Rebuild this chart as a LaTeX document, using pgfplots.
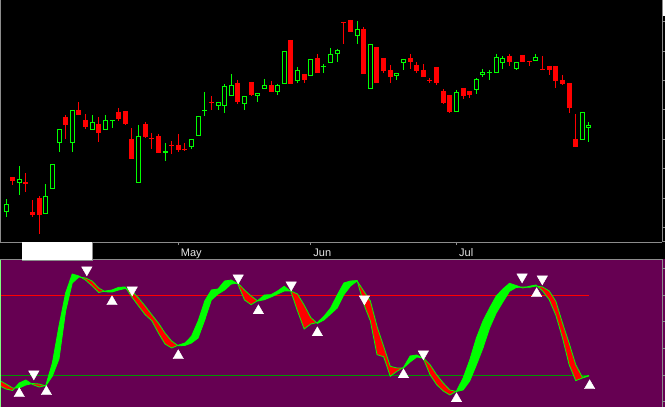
\documentclass[border=0pt]{standalone}
\usepackage{pgfplots}
\pgfplotsset{compat=1.18}
\usepackage{pgfplotstable}
\usepackage{fontspec}
\setmainfont{Liberation Sans}
\definecolor{cg}{RGB}{0,255,0}
\definecolor{cr}{RGB}{255,0,0}
\definecolor{purp}{RGB}{102,0,82}
\definecolor{lg}{RGB}{140,140,140}
\definecolor{dg}{RGB}{0,150,0}
\definecolor{lbl}{RGB}{230,230,230}

% candles: values are chart y positions (down = lower price)
\pgfplotstableread{
i top bot hi lo
0 204 212 199 217
2 179 183 166 195
6 196 214 184 214
7 164 189 164 189
8 129 143 129 152
10 110 143 110 152
13 122 130 115 130
15 120 130 115 130
16 120 121 120 128
20 136 183 125 183
24 151 153 143 161
28 139 147 139 149
29 116 136 116 136
30 110 111 92 116
32 102 106 102 110
33 86 106 84 113
34 85 96 74 96
36 96 104 96 110
38 93 96 93 102
39 85 89 79 89
41 85 92 84 95
42 51 84 51 84
44 70 81 67 83
46 59 76 59 76
48 66 67 64 73
49 54 63 48 63
50 50 54 49 62
53 29 36 21 44
55 44 89 44 89
59 73 76 73 80
60 59 63 59 70
68 92 112 90 112
71 79 90 78 94
72 72 75 69 77
73 72 73 70 80
74 57 73 54 73
75 58 63 56 69
77 62 69 62 70
80 57 61 54 61
87 112 140 112 140
88 125 128 122 142
}\upc

\pgfplotstableread{
i top bot hi lo
1 177 181 177 185
3 182 184 173 192
4 212 215 200 217
5 198 215 196 234
9 117 125 115 139
11 110 115 102 115
12 120 127 114 129
14 124 133 117 142
17 112 119 108 121
18 111 124 111 125
19 139 159 128 159
21 124 137 122 138
22 138 139 133 149
23 136 153 134 153
25 145 146 141 154
26 145 150 134 152
27 149 150 143 151
31 102 103 96 110
35 83 102 80 104
37 82 95 82 96
40 85 92 81 92
43 40 84 40 84
45 74 80 74 83
47 58 73 54 73
51 22 23 22 44
52 20 32 20 32
54 29 74 27 74
56 47 83 47 83
57 58 71 58 73
58 70 77 65 83
61 58 62 54 69
62 65 71 62 73
63 70 77 64 77
64 80 81 78 83
65 67 83 67 85
66 91 103 89 104
67 95 112 95 113
69 88 96 88 99
70 91 95 91 98
76 56 62 54 66
78 55 62 55 62
79 61 62 61 66
81 69 70 56 70
82 66 70 66 75
83 66 81 66 88
84 80 84 75 85
85 83 108 83 113
86 139 147 114 147
}\dnc

% stochastic %K (k) and %D (d)
\pgfplotstableread{
i k d
-0.9 12.0 16.0
0 9.75 13.5
1 8.63 10.5
2 14.25 10.5
3 16.5 12.75
4 13.13 13.88
5 11.25 13.5
6 12.38 12.0
7 29.25 19.5
8 57.0 32.25
9 81.75 68.25
10 96.0 89.25
11 94.5 93.75
12 91.5 93.0
13 87.0 90.75
14 82.13 85.5
15 83.25 82.65
16 84.0 82.5
17 86.0 84.0
18 86.25 85.13
19 78.75 83.25
20 72.0 78.0
21 65.5 72.0
22 61.0 65.5
23 51.75 59.25
24 43.5 51.75
25 40.5 45.75
26 42.6 42.15
27 44.25 42.4
28 49.28 44.25
29 60.75 48.0
30 75.75 61.5
31 84.0 76.5
32 84.75 81.0
33 90.75 84.0
34 91.5 88.5
35 88.5 89.25
36 76.5 84.0
37 73.0 79.5
38 76.1 75.75
39 80.25 76.7
40 80.5 78.75
41 83.25 81.0
42 86.8 83.25
43 82.88 83.25
44 68.25 81.0
45 54.75 72.75
46 58.5 63.4
47 59.6 58.9
48 64.3 61.5
49 70.5 66.0
50 80.25 70.5
51 89.25 80.5
52 90.75 87.0
53 91.1 90.75
54 73.5 83.25
55 60.75 75.75
56 35.5 56.8
57 34.0 41.8
58 19.3 26.8
59 23.0 25.5
60 25.9 25.5
61 34.5 30.0
62 35.25 33.75
63 32.6 33.0
64 20.5 28.0
65 13.0 20.5
66 8.25 14.25
67 5.25 9.0
68 8.25 7.9
69 18.0 9.0
70 31.5 15.75
71 48.0 27.75
72 60.75 40.5
73 70.5 55.5
74 79.5 66.75
75 84.75 75.0
76 89.0 83.0
77 87.4 85.9
78 85.5 86.25
79 86.8 86.0
80 87.75 87.0
81 83.25 86.25
82 76.7 83.25
83 65.0 75.5
84 48.0 59.25
85 28.0 44.25
86 16.0 28.0
87 18.0 18.5
88 19.5 19.9
}\stoch

% ribbon zones where %K is above %D (outline: %K forward, %D back)
\pgfplotstableread{
x y
1.333 10.5
2 14.25
3 16.5
3.833 13.69
3 12.75
2 10.5
nan nan
5.856 12.22
6 12.38
7 29.25
8 57.0
9 81.75
10 96.0
11 94.5
11.333 93.5
11 93.75
10 89.25
9 68.25
8 32.25
7 19.5
6 12.0
nan nan
14.849 83.08
15 83.25
16 84.0
17 86.0
18 86.25
18.199 84.76
18 85.13
17 84.0
16 82.5
15 82.65
nan nan
25.921 42.43
26 42.6
27 44.25
28 49.28
29 60.75
30 75.75
31 84.0
32 84.75
33 90.75
34 91.5
34.8 89.1
34 88.5
33 84.0
32 81.0
31 76.5
30 61.5
29 48.0
28 44.25
27 42.4
26 42.15
nan nan
37.949 75.94
38 76.1
39 80.25
40 80.5
41 83.25
42 86.8
42.906 83.25
42 83.25
41 81.0
40 78.75
39 76.7
38 75.75
nan nan
46.875 59.46
47 59.6
48 64.3
49 70.5
50 80.25
51 89.25
52 90.75
53 91.1
53.035 90.49
53 90.75
52 87.0
51 80.5
50 70.5
49 66.0
48 61.5
47 58.9
nan nan
59.862 25.5
60 25.9
61 34.5
62 35.25
62.789 33.16
62 33.75
61 30.0
60 25.5
nan nan
67.915 7.99
68 8.25
69 18.0
70 31.5
71 48.0
72 60.75
73 70.5
74 79.5
75 84.75
76 89.0
77 87.4
77.667 86.13
77 85.9
76 83.0
75 75.0
74 66.75
73 55.5
72 40.5
71 27.75
70 15.75
69 9.0
68 7.9
nan nan
78.484 86.13
79 86.8
80 87.75
80.2 86.85
80 87.0
79 86.0
}\upzone

% ribbon zones where %K is below %D
\pgfplotstableread{
x y
-0.9 12.0
0 9.75
1 8.63
1.333 10.5
1 10.5
0 13.5
-0.9 16.0
nan nan
3.833 13.69
4 13.13
5 11.25
5.856 12.22
5 13.5
4 13.88
nan nan
11.333 93.5
12 91.5
13 87.0
14 82.13
14.849 83.08
14 85.5
13 90.75
12 93.0
nan nan
18.199 84.76
19 78.75
20 72.0
21 65.5
22 61.0
23 51.75
24 43.5
25 40.5
25.921 42.43
25 45.75
24 51.75
23 59.25
22 65.5
21 72.0
20 78.0
19 83.25
nan nan
34.8 89.1
35 88.5
36 76.5
37 73.0
37.949 75.94
37 79.5
36 84.0
35 89.25
nan nan
42.906 83.25
43 82.88
44 68.25
45 54.75
46 58.5
46.875 59.46
46 63.4
45 72.75
44 81.0
43 83.25
nan nan
53.035 90.49
54 73.5
55 60.75
56 35.5
57 34.0
58 19.3
59 23.0
59.862 25.5
59 25.5
58 26.8
57 41.8
56 56.8
55 75.75
54 83.25
nan nan
62.789 33.16
63 32.6
64 20.5
65 13.0
66 8.25
67 5.25
67.915 7.99
67 9.0
66 14.25
65 20.5
64 28.0
63 33.0
nan nan
77.667 86.13
78 85.5
78.484 86.13
78 86.25
nan nan
80.2 86.85
81 83.25
82 76.7
83 65.0
84 48.0
85 28.0
86 16.0
87 18.0
88 19.5
88 19.9
87 18.5
86 28.0
85 44.25
84 59.25
83 75.5
82 83.25
81 86.25
}\dnzone

\pgfplotstableread{
i v
-1.13 19.6
4.2 21.1
12.2 99.1
19.05 84.1
35.05 93.1
43.05 87.8
54.1 77.3
63.0 36.1
77.9 93.8
80.95 92.3
}\sells

\pgfplotstableread{
i v
2.0 6.2
6.1 7.7
16.0 75.2
26.0 34.7
38.1 68.4
47.0 51.9
60.0 20.4
68.0 2.4
80.1 81.2
88.1 12.2
}\buys

\begin{document}
\begin{tikzpicture}
\fill[black] (0pt,147.5pt) rectangle (665pt,407pt);
\fill[purp] (0pt,0pt) rectangle (665pt,147.5pt);

% ---------------- price panel ----------------
\begin{axis}[
  at={(0pt,165pt)}, anchor=south west,
  scale only axis, width=662pt, height=242pt,
  xmin=-0.906, xmax=99.02,
  ymin=0, ymax=242, y dir=reverse,
  axis x line*=bottom, axis y line*=right,
  axis line style={lg, line width=1pt},
  tick style={lg, line width=1pt},
  tick align=outside, major tick length=4pt,
  xtick={26,46,68}, xticklabels={May,Jun,Jul},
  xticklabel style={font=\fontsize{11}{13}\selectfont, text=lbl, anchor=base west, inner sep=0pt, xshift=2.5pt, yshift=-11pt},
  ytick={22,51.3,80.7,110,139.3,168.7,198,227.3},
  yticklabels={},
  major tick length=3pt,
]
% wicks
\addplot[draw=none, mark=none, forget plot, error bars/.cd, y dir=plus, y explicit, error mark=none,
  error bar style={draw=cg, line width=1pt}]
  table[x=i, y=hi, y error expr=\thisrow{lo}-\thisrow{hi}] {\upc};
\addplot[draw=none, mark=none, forget plot, error bars/.cd, y dir=plus, y explicit, error mark=none,
  error bar style={draw=cr, line width=1pt}]
  table[x=i, y=hi, y error expr=\thisrow{lo}-\thisrow{hi}] {\dnc};
% bodies
\addplot[draw=none, mark=none, forget plot, error bars/.cd, y dir=plus, y explicit, error mark=none,
  error bar style={draw=cg, line width=5pt}]
  table[x=i, y=top, y error expr=\thisrow{bot}-\thisrow{top}] {\upc};
\addplot[draw=none, mark=none, forget plot, error bars/.cd, y dir=plus, y explicit, error mark=none,
  error bar style={draw=black, line width=3pt}]
  table[x=i, y expr=\thisrow{top}+1, y error expr={max(\thisrow{bot}-\thisrow{top}-2,0)}] {\upc};
\addplot[draw=none, mark=none, forget plot, error bars/.cd, y dir=plus, y explicit, error mark=none,
  error bar style={draw=cr, line width=5pt}]
  table[x=i, y=top, y error expr=\thisrow{bot}-\thisrow{top}] {\dnc};
\end{axis}

% ---------------- stochastic panel ----------------
\begin{axis}[
  at={(0pt,0pt)}, anchor=south west,
  scale only axis, width=662pt, height=147.5pt,
  xmin=-0.906, xmax=99.02,
  ymin=-3.75, ymax=106.875,
  axis x line*=top, axis y line*=right,
  axis line style={lg, line width=1pt},
  tick style={lg, line width=1pt},
  tick align=outside, major tick length=3pt,
  xtick={-10}, xticklabels={},
  ytick={0,20,40,60,80,100}, yticklabels={},
  clip marker paths=true,
  unbounded coords=jump,
]
\addplot[draw=cr, line width=1.2pt, forget plot] coordinates {(-1,80) (88,80)};
\addplot[draw=dg, line width=1.2pt, forget plot] coordinates {(-1,20) (88,20)};
\addplot[fill=cg, draw=none, forget plot] table[x=x, y=y] {\upzone};
\addplot[fill=cr, draw=none, forget plot] table[x=x, y=y] {\dnzone};
\addplot[cg, line width=0.8pt, forget plot] table[x=i, y=k] {\stoch};
\addplot[cg, line width=0.8pt, forget plot] table[x=i, y=d] {\stoch};
\addplot[only marks, mark=triangle*, mark size=6pt, mark options={fill=white, draw=white, rotate=180}, forget plot]
  table[x=i, y=v] {\sells};
\addplot[only marks, mark=triangle*, mark size=6pt, mark options={fill=white, draw=white}, forget plot]
  table[x=i, y=v] {\buys};
\end{axis}

% interface decorations
\draw[lg, line width=1pt] (0.5pt,165pt) -- (0.5pt,407pt);
\draw[lg, line width=1pt] (662pt,165pt) -- (665pt,165pt);
\draw[cg!50!white, line width=0.8pt] (0.4pt,0pt) -- (0.4pt,147pt);
\fill[white] (22pt,146pt) rectangle (92pt,164.5pt);
\draw[lg, line width=1pt] (22pt,146pt) -- (92.5pt,146pt) -- (92.5pt,164.5pt);
\fill[white] (663pt,391pt) rectangle (665pt,407pt);
\pgfresetboundingbox
\path[use as bounding box] (0pt,0pt) rectangle (665pt,407pt);
\end{tikzpicture}
\end{document}
